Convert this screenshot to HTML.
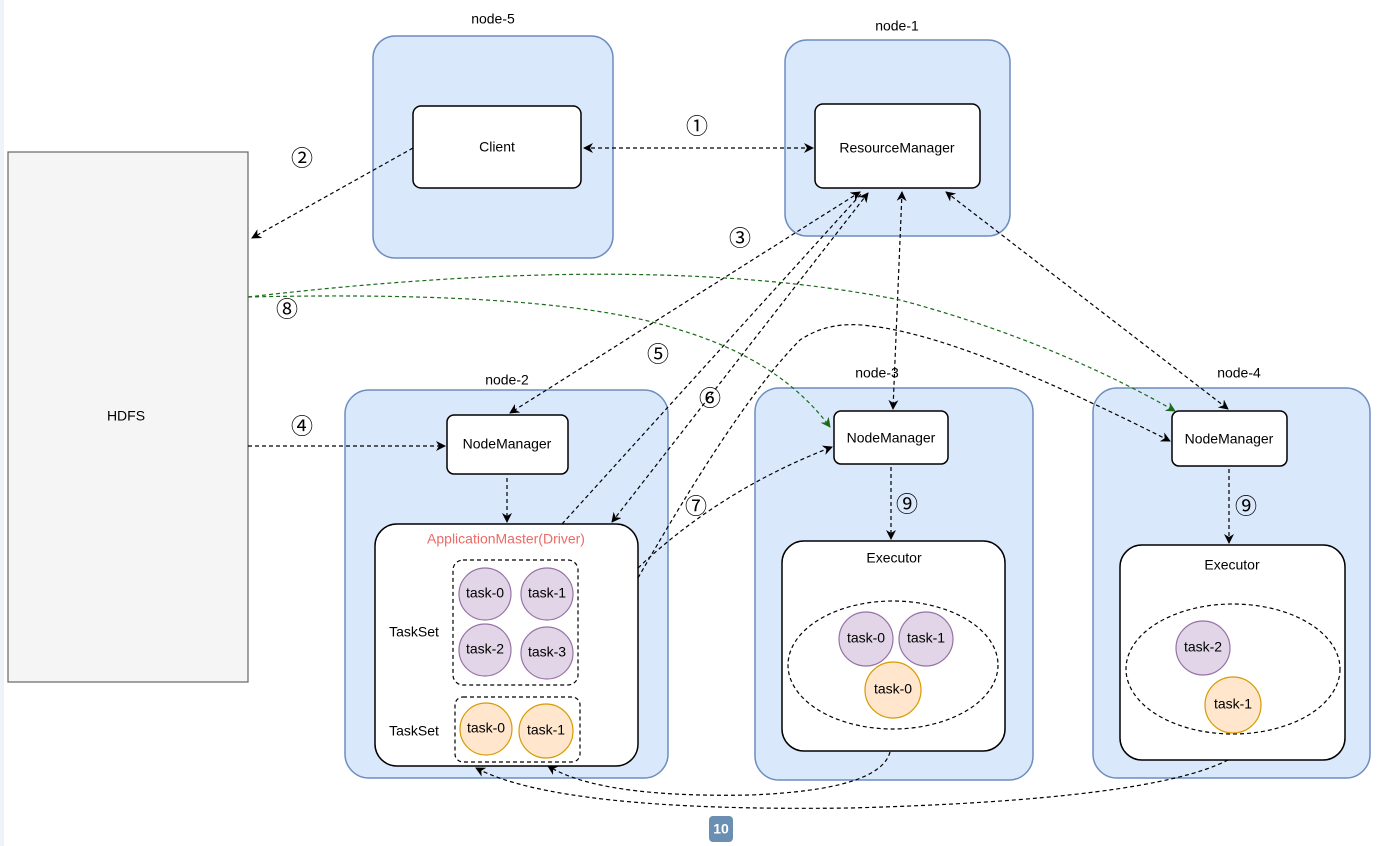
<!DOCTYPE html>
<html><head><meta charset="utf-8"><style>
body{margin:0;background:#fff;}
svg{display:block;font-family:"Liberation Sans","Noto Sans CJK SC",sans-serif;}
.n{fill:#dae8fc;stroke:#6c8ebf;stroke-width:1.5}
.b{fill:#fff;stroke:#000;stroke-width:1.5}
.d{fill:none;stroke:#000;stroke-width:1.2;stroke-dasharray:4 3}
.g{fill:none;stroke:#1a6b1a;stroke-width:1.2;stroke-dasharray:4 3}
.p{fill:#e1d5e7;stroke:#9673a6;stroke-width:1.2}
.o{fill:#ffe6cc;stroke:#d79b00;stroke-width:1.2}
text{font-size:14px;fill:#000}
.c{text-anchor:middle;dominant-baseline:middle}
.num{font-size:22px}
</style></head><body>
<svg width="1380" height="846" viewBox="0 0 1380 846">
<defs>
<marker id="a" markerWidth="10" markerHeight="10" refX="9" refY="5" orient="auto-start-reverse" markerUnits="userSpaceOnUse"><path d="M0,0 L10,5 L0,10 L3,5z" fill="#000"/></marker>
<marker id="ag" markerWidth="10" markerHeight="10" refX="9" refY="5" orient="auto-start-reverse" markerUnits="userSpaceOnUse"><path d="M0,0 L10,5 L0,10 L3,5z" fill="#1a6b1a"/></marker>
</defs>
<rect x="0" y="0" width="4" height="846" fill="#eef3fa"/>
<!-- HDFS -->
<rect x="8" y="152" width="240" height="530" fill="#f5f5f5" stroke="#666" stroke-width="1.2"/>
<text x="126" y="417" class="c">HDFS</text>
<!-- nodes -->
<rect class="n" x="373" y="36" width="240" height="222" rx="22"/>
<text x="493" y="20" class="c">node-5</text>
<rect class="b" x="413" y="106" width="168" height="82" rx="8"/>
<text x="497" y="148" class="c">Client</text>
<rect class="n" x="785" y="40" width="225" height="196" rx="22"/>
<text x="897" y="27" class="c">node-1</text>
<rect class="b" x="815" y="104" width="165" height="84" rx="8"/>
<text x="897" y="149" class="c">ResourceManager</text>
<rect class="n" x="345" y="390" width="323" height="388" rx="24"/>
<text x="507" y="381" class="c">node-2</text>
<rect class="b" x="447" y="415" width="121" height="59" rx="7"/>
<text x="507" y="445" class="c">NodeManager</text>
<rect class="b" x="375" y="524" width="263" height="242" rx="22"/>
<text x="506" y="540" class="c" style="fill:#ea6b66">ApplicationMaster(Driver)</text>
<rect class="d" x="453" y="560" width="125" height="125" rx="10"/>
<rect class="d" x="455" y="697" width="125" height="65" rx="8"/>
<text x="414" y="633" class="c">TaskSet</text>
<text x="414" y="732" class="c">TaskSet</text>
<circle class="p" cx="485" cy="594" r="26"/><text x="485" y="594" class="c">task-0</text>
<circle class="p" cx="547" cy="594" r="26"/><text x="547" y="594" class="c">task-1</text>
<circle class="p" cx="485" cy="650" r="26"/><text x="485" y="650" class="c">task-2</text>
<circle class="p" cx="547" cy="653" r="26"/><text x="547" y="653" class="c">task-3</text>
<circle class="o" cx="486" cy="729" r="26"/><text x="486" y="729" class="c">task-0</text>
<circle class="o" cx="546" cy="731" r="27"/><text x="546" y="731" class="c">task-1</text>
<rect class="n" x="755" y="388" width="278" height="392" rx="24"/>
<text x="877" y="374" class="c">node-3</text>
<rect class="b" x="834" y="411" width="114" height="53" rx="7"/>
<text x="891" y="439" class="c">NodeManager</text>
<rect class="b" x="782" y="541" width="223" height="210" rx="22"/>
<text x="894" y="559" class="c">Executor</text>
<ellipse class="d" cx="893" cy="665" rx="105" ry="64"/>
<circle class="p" cx="866" cy="639" r="27"/><text x="866" y="639" class="c">task-0</text>
<circle class="p" cx="926" cy="639" r="27"/><text x="926" y="639" class="c">task-1</text>
<circle class="o" cx="893" cy="690" r="28"/><text x="893" y="690" class="c">task-0</text>
<rect class="n" x="1093" y="388" width="277" height="390" rx="24"/>
<text x="1239" y="374" class="c">node-4</text>
<rect class="b" x="1172" y="411" width="115" height="55" rx="7"/>
<text x="1229" y="440" class="c">NodeManager</text>
<rect class="b" x="1120" y="545" width="225" height="215" rx="22"/>
<text x="1232" y="566" class="c">Executor</text>
<ellipse class="d" cx="1233" cy="669" rx="107" ry="65"/>
<circle class="p" cx="1203" cy="648" r="27"/><text x="1203" y="648" class="c">task-2</text>
<circle class="o" cx="1233" cy="705" r="28"/><text x="1233" y="705" class="c">task-1</text>
<!-- edges -->
<path class="d" d="M584,148 L813,148" marker-start="url(#a)" marker-end="url(#a)"/>
<path class="d" d="M413,148 L252,238" marker-end="url(#a)"/>
<path class="d" d="M860,192 L510,413" marker-start="url(#a)" marker-end="url(#a)"/>
<path class="d" d="M248,446 L445,446" marker-end="url(#a)"/>
<path class="d" d="M507,478 L507,522" marker-end="url(#a)"/>
<path class="d" d="M562,524 L862,193"/>
<path class="d" d="M868,193 L612,522" marker-start="url(#a)" marker-end="url(#a)"/>
<path class="d" d="M638,578 Q740,400 800,340 Q830,320 870,326 Q960,335 1170,441" marker-end="url(#a)"/>
<path class="d" d="M638,568 Q720,490 832,447" marker-end="url(#a)"/>
<path class="d" d="M902,192 L893,409" marker-start="url(#a)" marker-end="url(#a)"/>
<path class="d" d="M946,192 L1228,409" marker-start="url(#a)" marker-end="url(#a)"/>
<path class="g" d="M248,297 Q560,290 680,330 Q780,360 830,427" marker-end="url(#ag)"/>
<path class="g" d="M248,297 Q650,250 900,300 Q1050,340 1175,411" marker-end="url(#ag)"/>
<path class="d" d="M891,467 L891,539" marker-end="url(#a)"/>
<path class="d" d="M1229,469 L1229,543" marker-end="url(#a)"/>
<path class="d" d="M890,752 Q880,790 750,795 Q600,798 548,766" marker-end="url(#a)"/>
<path class="d" d="M1228,760 Q1150,800 850,808 Q560,812 476,768" marker-end="url(#a)"/>
<!-- numbers -->
<text x="697" y="128" class="c num">①</text>
<text x="302" y="160" class="c num">②</text>
<text x="740" y="240" class="c num">③</text>
<text x="302" y="428" class="c num">④</text>
<text x="658" y="356" class="c num">⑤</text>
<text x="710" y="400" class="c num">⑥</text>
<text x="696" y="508" class="c num">⑦</text>
<text x="287" y="311" class="c num">⑧</text>
<text x="907" y="506" class="c num">⑨</text>
<text x="1246" y="508" class="c num">⑨</text>
<rect x="709" y="816" width="24" height="26" rx="4" fill="#6a8fb3"/>
<text x="721" y="830" class="c" style="fill:#fff;font-size:14px;font-weight:bold">10</text>
</svg>
</body></html>
